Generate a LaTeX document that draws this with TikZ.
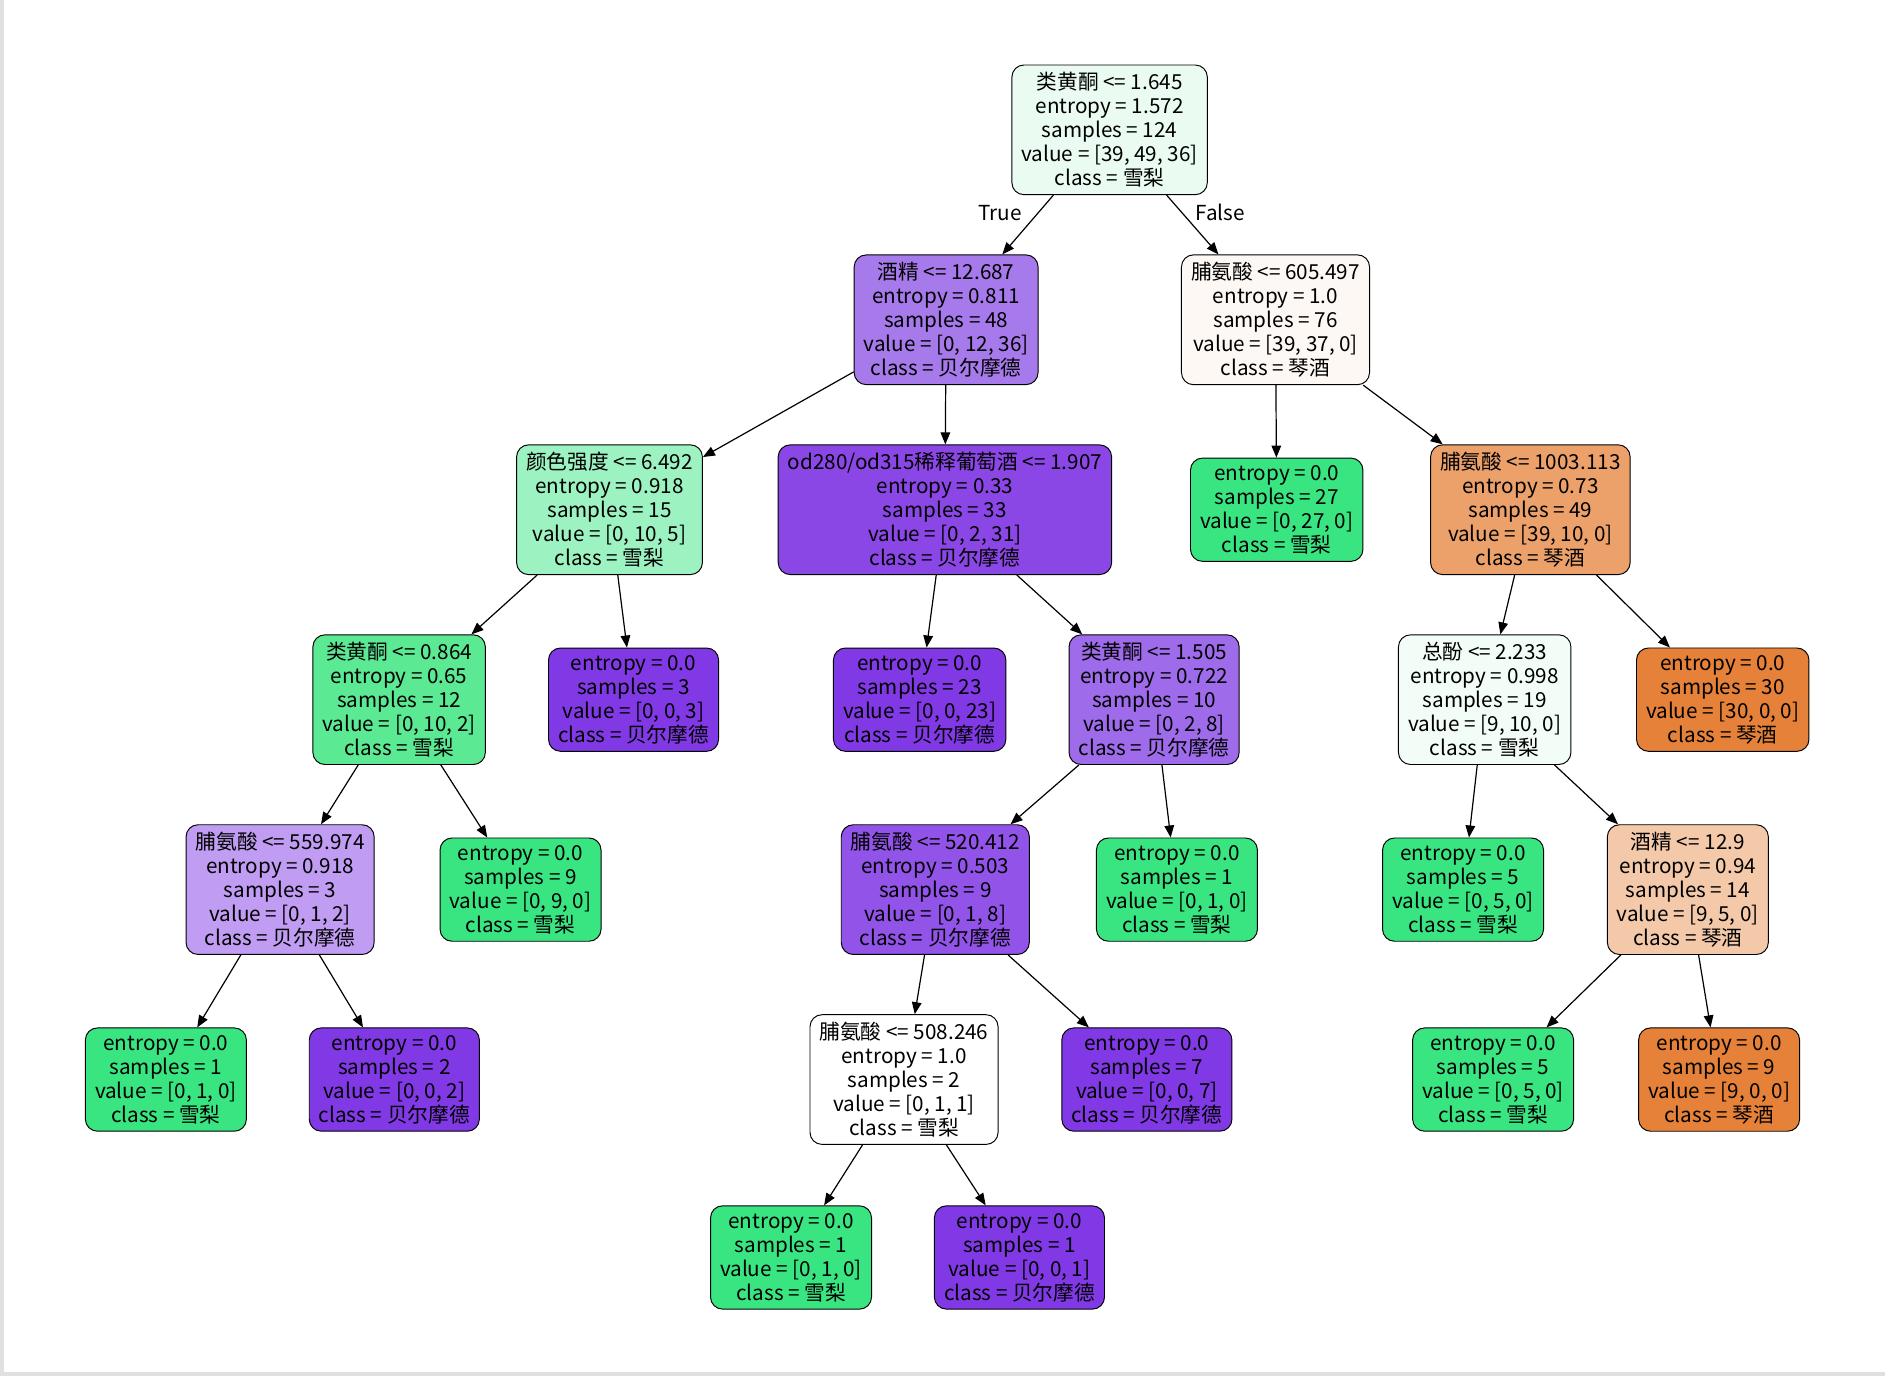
\documentclass[tikz,border=0pt]{standalone}
\usepackage{fontspec}
\setmainfont{Noto Sans CJK SC}
\usetikzlibrary{arrows.meta}
\definecolor{cR}{HTML}{EAFCF1}
\definecolor{c1}{HTML}{A77AEB}
\definecolor{c2}{HTML}{FEF8F4}
\definecolor{c3}{HTML}{9CF2C0}
\definecolor{c4}{HTML}{8B46E6}
\definecolor{cG}{HTML}{39E581}
\definecolor{c6}{HTML}{ECA16B}
\definecolor{c7}{HTML}{5BE993}
\definecolor{cP}{HTML}{8139E5}
\definecolor{c10}{HTML}{9E6BEA}
\definecolor{c11}{HTML}{F1FDF6}
\definecolor{cO}{HTML}{E58139}
\definecolor{c13}{HTML}{C09CF2}
\definecolor{c15}{HTML}{9253E8}
\definecolor{c18}{HTML}{F4C9AA}
\tikzset{tn/.style={draw=black,rounded corners=5pt,align=center,inner xsep=4pt,inner ysep=3pt,font=\fontsize{8.6}{10}\selectfont},
ed/.style={-{Triangle[length=5pt,width=4pt]},line width=0.5pt}}
\begin{document}
\begin{tikzpicture}[x=0.5pt,y=-0.5pt]
\useasboundingbox (0,0) rectangle (1568,1145);
\fill[white] (0,0) rectangle (1568,1145);
\fill[black!12] (0,1141) rectangle (1568,1145);
\fill[black!12] (0,0) rectangle (3,1145);
\node[tn,fill=cR] (n0) at (923,108) {类黄酮 <= 1.645\\entropy = 1.572\\samples = 124\\value = [39, 49, 36]\\class = 雪梨};
\node[tn,fill=c1] (n1) at (787,266) {酒精 <= 12.687\\entropy = 0.811\\samples = 48\\value = [0, 12, 36]\\class = 贝尔摩德};
\node[tn,fill=c2] (n2) at (1061,266) {脯氨酸 <= 605.497\\entropy = 1.0\\samples = 76\\value = [39, 37, 0]\\class = 琴酒};
\node[tn,fill=c3] (n3) at (507,424) {颜色强度 <= 6.492\\entropy = 0.918\\samples = 15\\value = [0, 10, 5]\\class = 雪梨};
\node[tn,fill=c4] (n4) at (786,424) {od280/od315稀释葡萄酒 <= 1.907\\entropy = 0.33\\samples = 33\\value = [0, 2, 31]\\class = 贝尔摩德};
\node[tn,fill=cG] (n5) at (1062,424) {entropy = 0.0\\samples = 27\\value = [0, 27, 0]\\class = 雪梨};
\node[tn,fill=c6] (n6) at (1273,424) {脯氨酸 <= 1003.113\\entropy = 0.73\\samples = 49\\value = [39, 10, 0]\\class = 琴酒};
\node[tn,fill=c7] (n7) at (332,582) {类黄酮 <= 0.864\\entropy = 0.65\\samples = 12\\value = [0, 10, 2]\\class = 雪梨};
\node[tn,fill=cP] (n8) at (527,582) {entropy = 0.0\\samples = 3\\value = [0, 0, 3]\\class = 贝尔摩德};
\node[tn,fill=cP] (n9) at (765,582) {entropy = 0.0\\samples = 23\\value = [0, 0, 23]\\class = 贝尔摩德};
\node[tn,fill=c10] (n10) at (960,582) {类黄酮 <= 1.505\\entropy = 0.722\\samples = 10\\value = [0, 2, 8]\\class = 贝尔摩德};
\node[tn,fill=c11] (n11) at (1235,582) {总酚 <= 2.233\\entropy = 0.998\\samples = 19\\value = [9, 10, 0]\\class = 雪梨};
\node[tn,fill=cO] (n12) at (1433,582) {entropy = 0.0\\samples = 30\\value = [30, 0, 0]\\class = 琴酒};
\node[tn,fill=c13] (n13) at (233,740) {脯氨酸 <= 559.974\\entropy = 0.918\\samples = 3\\value = [0, 1, 2]\\class = 贝尔摩德};
\node[tn,fill=cG] (n14) at (433,740) {entropy = 0.0\\samples = 9\\value = [0, 9, 0]\\class = 雪梨};
\node[tn,fill=c15] (n15) at (778,740) {脯氨酸 <= 520.412\\entropy = 0.503\\samples = 9\\value = [0, 1, 8]\\class = 贝尔摩德};
\node[tn,fill=cG] (n16) at (979,740) {entropy = 0.0\\samples = 1\\value = [0, 1, 0]\\class = 雪梨};
\node[tn,fill=cG] (n17) at (1217,740) {entropy = 0.0\\samples = 5\\value = [0, 5, 0]\\class = 雪梨};
\node[tn,fill=c18] (n18) at (1404,740) {酒精 <= 12.9\\entropy = 0.94\\samples = 14\\value = [9, 5, 0]\\class = 琴酒};
\node[tn,fill=cG] (n19) at (138,898) {entropy = 0.0\\samples = 1\\value = [0, 1, 0]\\class = 雪梨};
\node[tn,fill=cP] (n20) at (328,898) {entropy = 0.0\\samples = 2\\value = [0, 0, 2]\\class = 贝尔摩德};
\node[tn,fill=white] (n21) at (752,898) {脯氨酸 <= 508.246\\entropy = 1.0\\samples = 2\\value = [0, 1, 1]\\class = 雪梨};
\node[tn,fill=cP] (n22) at (954,898) {entropy = 0.0\\samples = 7\\value = [0, 0, 7]\\class = 贝尔摩德};
\node[tn,fill=cG] (n23) at (1242,898) {entropy = 0.0\\samples = 5\\value = [0, 5, 0]\\class = 雪梨};
\node[tn,fill=cO] (n24) at (1430,898) {entropy = 0.0\\samples = 9\\value = [9, 0, 0]\\class = 琴酒};
\node[tn,fill=cG] (n25) at (658,1046) {entropy = 0.0\\samples = 1\\value = [0, 1, 0]\\class = 雪梨};
\node[tn,fill=cP] (n26) at (848,1046) {entropy = 0.0\\samples = 1\\value = [0, 0, 1]\\class = 贝尔摩德};
\foreach \a/\b in {n0/n1,n0/n2,n1/n3,n1/n4,n2/n5,n2/n6,n3/n7,n3/n8,n4/n9,n4/n10,n6/n11,n6/n12,n7/n13,n7/n14,n10/n15,n10/n16,n11/n17,n11/n18,n13/n19,n13/n20,n15/n21,n15/n22,n18/n23,n18/n24,n21/n25,n21/n26}
  \draw[ed] (\a) -- (\b);
\node[font=\fontsize{8.6}{10}\selectfont] (lt) at (832,177) {True};
\node[font=\fontsize{8.6}{10}\selectfont] (lf) at (1015,177) {False};
\end{tikzpicture}
\end{document}
